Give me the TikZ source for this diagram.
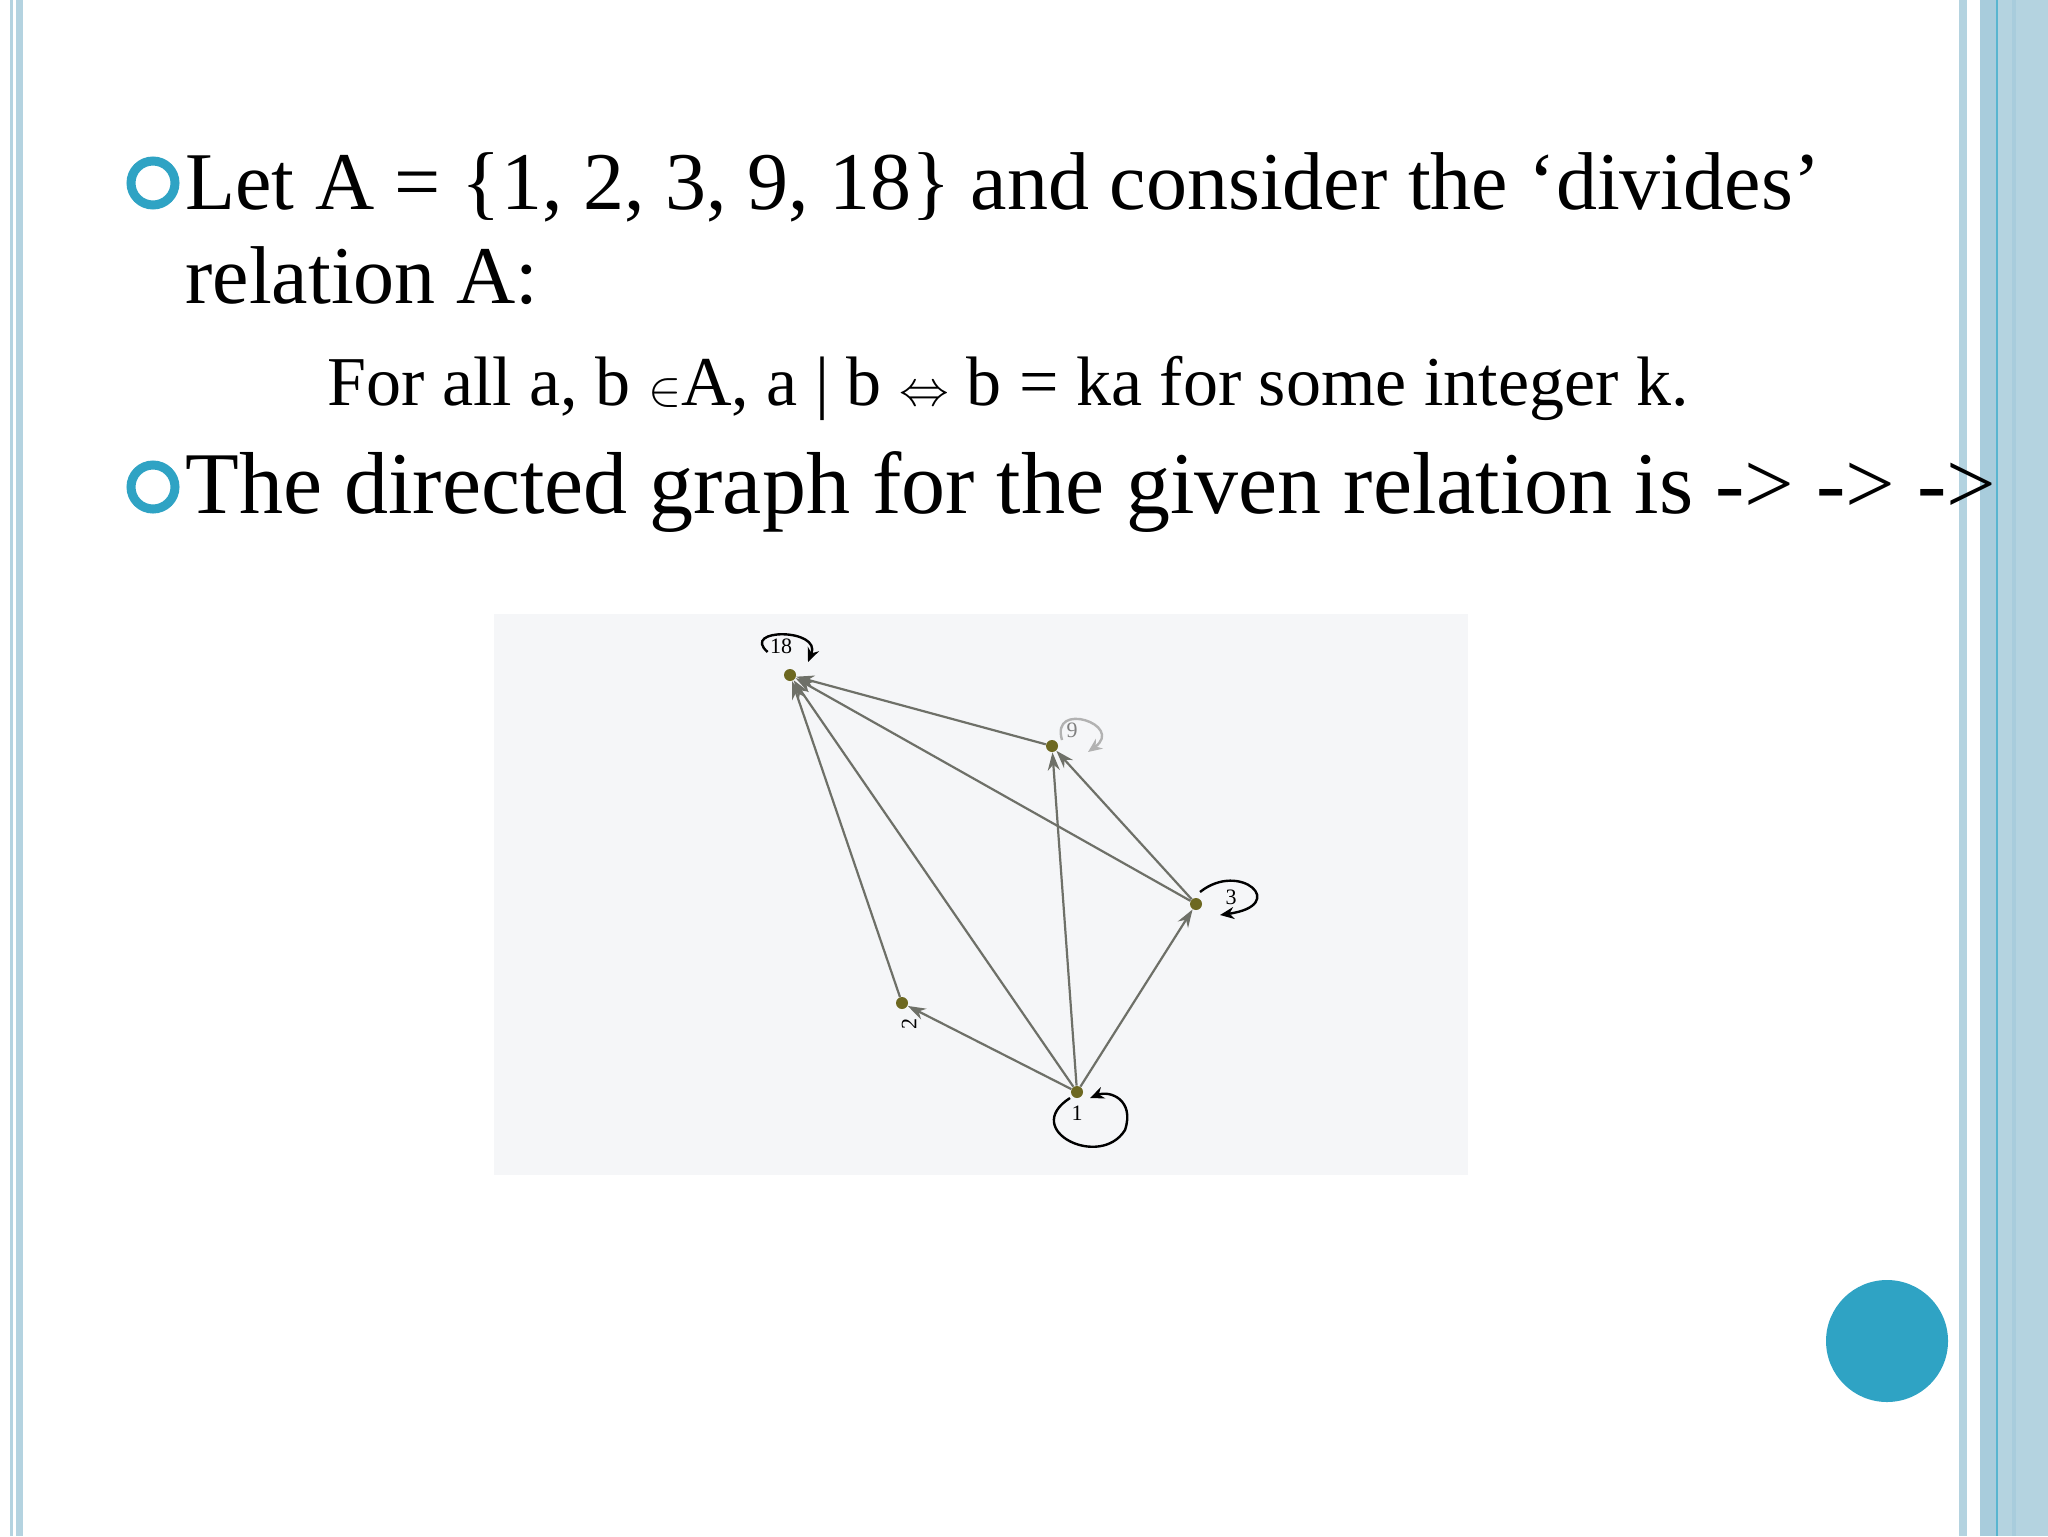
\documentclass[tikz,border=0pt]{standalone}
\usepackage{fontspec}
\setmainfont{Liberation Serif}
\usetikzlibrary{arrows.meta}
\definecolor{stripe}{HTML}{B4D3E0}
\definecolor{stripeB}{HTML}{A8CCDC}
\definecolor{teal}{HTML}{2FA3C4}
\definecolor{graybg}{HTML}{F5F6F8}
\definecolor{edge}{HTML}{6E7068}
\tikzset{
  body/.style={anchor=base west,inner sep=0,font=\fontsize{41}{48}\selectfont},
  bul/.style={draw=teal,line width=4.5,circle,minimum size=22,inner sep=0},
  vtx/.style={circle,fill=olive!70!black,inner sep=0,minimum size=6},
  lbl/.style={font=\fontsize{11}{12}\selectfont,inner sep=0},
  ed/.style={edge,line width=1.1,-{Stealth[length=9,width=6]}},
  lp/.style={black,line width=1.2,-{Stealth[length=7,width=6]}}
}
\begin{document}
\begin{tikzpicture}[x=0.5pt,y=-0.5pt]
\useasboundingbox (0,0) rectangle (2048,1536);
\fill[white] (0,0) rectangle (2048,1536);
% borders
\fill[stripe] (10,0) rectangle (13,1536);
\fill[stripe] (16,0) rectangle (23,1536);
\fill[stripe] (1959,0) rectangle (1967,1536);
\fill[stripe] (1980,0) rectangle (2048,1536);
\fill[stripeB] (1980,0) rectangle (1996,1536);
\fill[teal!80] (1996,0) rectangle (1998,1536);
\fill[stripeB] (2012,0) rectangle (2016,1536);
% text
\node[bul] (b1) at (153,183) {};
\node[body] (t1) at (185,209) {Let A = \{1, 2, 3, 9, 18\} and consider the ‘divides’};
\node[body] (t2) at (185,303) {relation A:};
\node[body,font=\fontsize{35}{40}\selectfont] (t3) at (327,405) {For all a, b $\in$A, a | b $\Leftrightarrow$ b = ka for some integer k.};
\node[bul] (b2) at (153,487) {};
\node[body,font=\fontsize{44}{50}\selectfont] (t4) at (185,513) {The directed graph for the given relation is -> -> ->};
% graph image
\fill[graybg] (494,614) rectangle (1468,1175);
\node[vtx] (n18) at (790,675) {};
\node[vtx] (n9) at (1052,746) {};
\node[vtx] (n3) at (1196,904) {};
\node[vtx] (n2) at (902,1003) {};
\node[vtx] (n1) at (1077,1092) {};
\node[lbl] (l18) at (781,646) {18};
\node[lbl,gray] (l9) at (1072,730) {9};
\node[lbl] (l3) at (1231,897) {3};
\node[lbl,rotate=90] (l2) at (909,1024) {2};
\node[lbl] (l1) at (1077,1113) {1};
\draw[ed] (n2) -- (n18);
\draw[ed] (n1) -- (n18);
\draw[ed] (n9) -- (n18);
\draw[ed] (n3) -- (n18);
\draw[ed] (n1) -- (n9);
\draw[ed] (n3) -- (n9);
\draw[ed] (n1) -- (n3);
\draw[ed] (n1) -- (n2);
% loops
\draw[lp] (l18.west) ++(-2,6) .. controls (740,628) and (822,628) .. (808,662);
\draw[lp,gray!60] (1062,740) .. controls (1050,700) and (1125,725) .. (1088,752);
\draw[lp] (1200,892) .. controls (1240,860) and (1290,905) .. (1220,915);
\draw[lp] (1070,1098) .. controls (1020,1130) and (1100,1170) .. (1125,1130) .. controls (1135,1100) and (1110,1090) .. (1090,1098);
% circle
\fill[teal] (1887,1341) circle (61);
\end{tikzpicture}
\end{document}
